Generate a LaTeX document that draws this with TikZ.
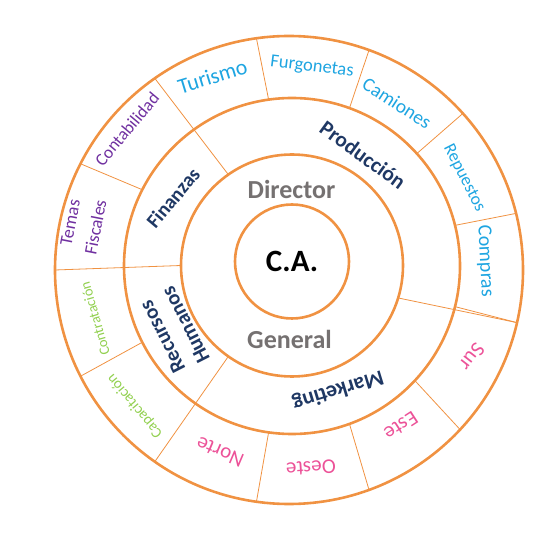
\documentclass[tikz,border=0pt]{standalone}
\usepackage{fontspec}
\setmainfont{Carlito}
\definecolor{aro}{RGB}{240,146,66}
\definecolor{gris}{RGB}{117,113,113}
\definecolor{azul}{RGB}{31,56,100}
\definecolor{cian}{RGB}{30,165,225}
\definecolor{morado}{RGB}{112,48,160}
\definecolor{verde}{RGB}{146,208,80}
\definecolor{rosa}{RGB}{236,82,152}
\tikzset{ring/.style={ % The orange circles
circle, draw=aro, line width=2.6pt,
inner sep=0pt, outer sep=0pt},
divider/.style={draw=aro, line width=0.8pt}, % Thin lines between the sectors
jefe/.style={font=\bfseries\fontsize{26}{26}\selectfont, text=gris},
dept/.style={font=\bfseries\fontsize{#1}{26}\selectfont, text=azul},
sub/.style={font=\fontsize{#1}{26}\selectfont}}

\begin{document}
\begin{tikzpicture}[x=1pt, y=-1pt]
    \useasboundingbox (0,0) rectangle (558,537);
    \node[ring, minimum size=468] (borde) at (289,270) {};
    \node[ring, minimum size=336] (areas) at (292,266) {};
    \node[ring, minimum size=222] (direccion) at (292,265.5) {};
    \node[ring, minimum size=114, font=\bfseries\fontsize{31}{31}\selectfont] (ca) at (292,261.5) {C.A.};
    \node[jefe] (director) at (291.5,189) {Director};
    \node[jefe] (general) at (289.5,339) {General};
    % sectors
    \draw[divider] (borde.153) -- (areas.153);
    \draw[divider] (borde.125) -- (direccion.125);
    \draw[divider] (borde.98) -- (areas.98);
    \draw[divider] (borde.70) -- (areas.70);
    \draw[divider] (borde.42) -- (areas.42);
    \draw[divider] (borde.14) -- (areas.14);
    \coordinate (corte) at (borde.347.5);
    \draw[divider] (direccion.343) -- (corte);
    \draw[divider] (areas.346) -- (corte);
    \draw[divider] (borde.317.5) -- (areas.317.5);
    \draw[divider] (borde.290) -- (areas.290);
    \draw[divider] (borde.262) -- (areas.262);
    \draw[divider] (borde.235) -- (direccion.235);
    \draw[divider] (borde.207.5) -- (areas.207.5);
    \draw[divider] (borde.180) -- (direccion.180);
    % areas
    \node[dept=20, rotate=50] (finanzas) at (173,198) {Finanzas};
    \node[dept=21.5, rotate=-36] (produccion) at (363,155) {Producción};
    \node[dept=22, rotate=-163] (marketing) at (338,390) {Marketing};
    \node[dept=21, rotate=117, align=center] (rrhh) at (174,331) {Recursos\\Humanos};
    % outer ring
    \node[sub=22, text=cian, rotate=17] (turismo) at (212.5,76.5) {Turismo};
    \node[sub=18.5, text=cian, rotate=-7] (furgonetas) at (312,67) {Furgonetas};
    \node[sub=19.5, text=cian, rotate=-33] (camiones) at (397,103) {Camiones};
    \node[sub=17.5, text=cian, rotate=-63] (repuestos) at (464,178) {Repuestos};
    \node[sub=20, text=cian, rotate=-87] (compras) at (485,261) {Compras};
    \node[sub=21, text=rosa, rotate=-128] (sur) at (472,357) {Sur};
    \node[sub=21, text=rosa, rotate=-147] (este) at (401,426) {Este};
    \node[sub=21, text=rosa, rotate=-176] (oeste) at (311,468) {Oeste};
    \node[sub=21, text=rosa, rotate=157] (norte) at (220,452) {Norte};
    \node[sub=15, text=verde, rotate=130] (capacitacion) at (135,406) {Capacitación};
    \node[sub=14.5, text=verde, rotate=106] (contratacion) at (95,319) {Contratación};
    \node[sub=18, text=morado, rotate=79, align=center] (temas) at (83,225) {Temas\\Fiscales};
    \node[sub=17.5, text=morado, rotate=50] (contabilidad) at (127,129) {Contabilidad};
\end{tikzpicture}
\end{document}
